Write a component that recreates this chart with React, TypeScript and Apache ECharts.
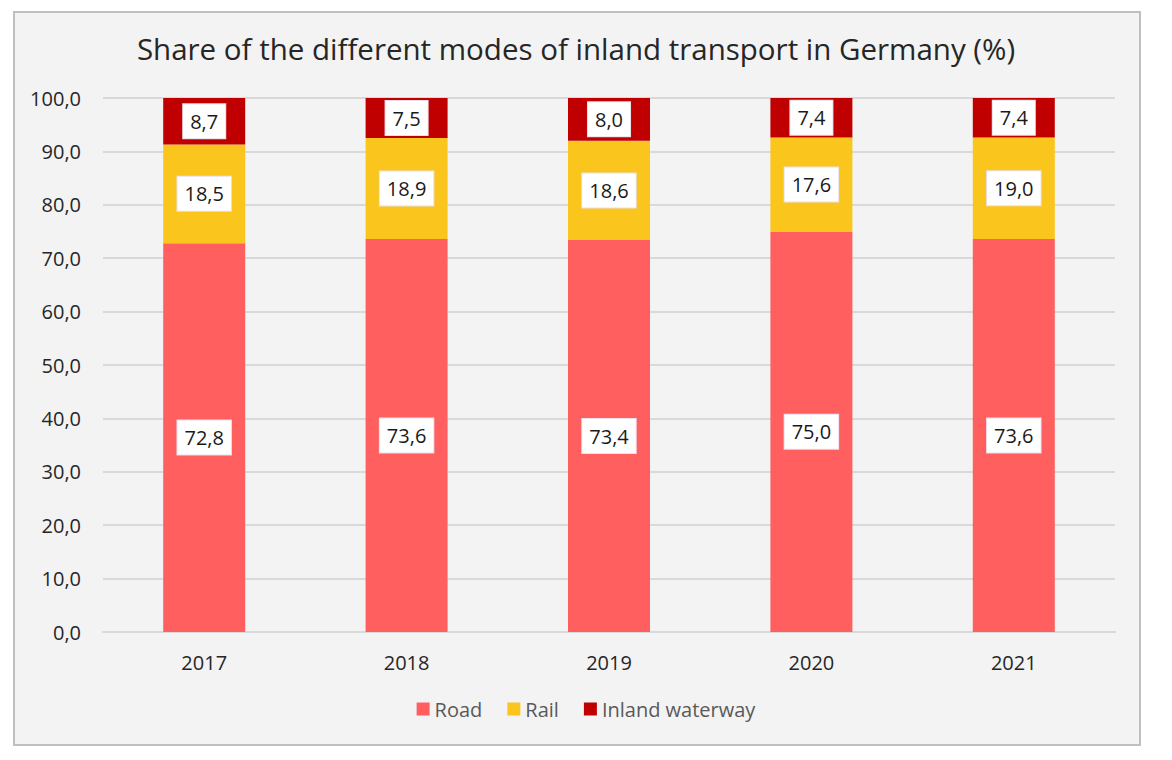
import React, { useEffect, useRef } from "react";
import * as echarts from "echarts";

const categories = ["2017", "2018", "2019", "2020", "2021"];
const road = [72.8, 73.6, 73.4, 75.0, 73.6];
const rail = [18.5, 18.9, 18.6, 17.6, 19.0];
const waterway = [8.7, 7.5, 8.0, 7.4, 7.4];
const seriesNames = ["Road", "Rail", "Inland waterway"];
const colors = ["#FF5F5F", "#FAC51C", "#C00000"];

const fmt = (v: number) => v.toFixed(1).replace(".", ",");

export default function App() {
  const ref = useRef<HTMLDivElement>(null);
  useEffect(() => {
    document.body.style.margin = "0";
    const chart = echarts.init(ref.current!, null, { renderer: "svg" });
    const font = "'Open Sans', 'Noto Sans', sans-serif";
    const label = {
      show: true,
      position: "inside",
      formatter: (p: any) => fmt(p.value),
      color: "#1a1a1a",
      fontSize: 20,
      lineHeight: 20,
      fontFamily: font,
      backgroundColor: "#ffffff",
      borderColor: "#eadfea",
      borderWidth: 1,
      padding: [8, 7, 6, 7],
    };
    const datasets = [road, rail, waterway];
    chart.setOption({
      animation: false,
      backgroundColor: "#ffffff",
      graphic: [
        {
          type: "rect",
          shape: { x: 14, y: 12, width: 1126, height: 733 },
          style: { fill: "#f3f3f3", stroke: "#bfbfbf", lineWidth: 2 },
          z: -10,
          silent: true,
        },
      ],
      title: {
        text: "Share of the different modes of inland transport in Germany (%)",
        left: 571,
        top: 28,
        textAlign: "center",
        textStyle: { fontFamily: font, fontSize: 29.5, fontWeight: "normal", color: "#262626" },
      },
      legend: {
        bottom: 36,
        left: "center",
        itemWidth: 13,
        itemHeight: 13,
        itemGap: 25,
        icon: "rect",
        textStyle: { fontFamily: font, fontSize: 20, color: "#595959" },
        data: seriesNames,
      },
      grid: { left: 103, right: 57, top: 98, bottom: 128, containLabel: false },
      xAxis: {
        type: "category",
        data: categories,
        axisLine: { lineStyle: { color: "#d9d9d9", width: 2 } },
        axisTick: { show: false },
        axisLabel: { fontFamily: font, fontSize: 20, color: "#262626", margin: 20 },
      },
      yAxis: {
        type: "value",
        min: 0,
        max: 100,
        interval: 10,
        axisLine: { show: false },
        axisTick: { show: false },
        splitLine: { lineStyle: { color: "#d9d9d9", width: 2 } },
        axisLabel: {
          fontFamily: font,
          fontSize: 20,
          color: "#262626",
          margin: 22,
          formatter: (v: number) => fmt(v),
        },
      },
      series: seriesNames.map((name, i) => ({
        name,
        type: "bar",
        stack: "total",
        barWidth: 82,
        data: datasets[i],
        itemStyle: { color: colors[i] },
        label,
      })),
    });
    return () => chart.dispose();
  }, []);
  return <div ref={ref} style={{ width: 1172, height: 760 }} />;
}
